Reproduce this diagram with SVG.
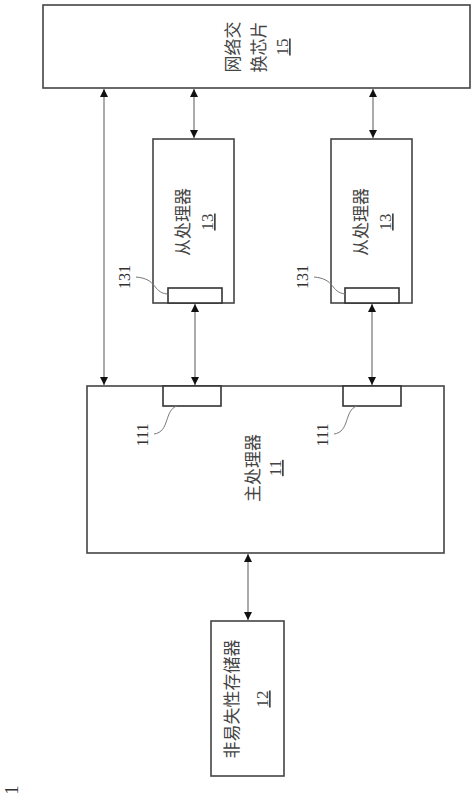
<svg xmlns="http://www.w3.org/2000/svg" width="474" height="800" viewBox="0 0 474 800">
<defs>
<marker id="ah" viewBox="0 0 10 10" refX="10" refY="5" markerWidth="8" markerHeight="8" markerUnits="userSpaceOnUse" orient="auto-start-reverse">
<path d="M0,0 L10,5 L0,10 z" fill="#111"/>
</marker>
<style>
.box{fill:#fff;stroke:#444;stroke-width:1.6}
.port{fill:#fff;stroke:#333;stroke-width:1.6}
.conn{stroke:#666;stroke-width:1.1;fill:none;marker-start:url(#ah);marker-end:url(#ah)}
.lead{stroke:#777;stroke-width:1;fill:none}
.t{font-family:"Liberation Serif","Noto Sans CJK SC",serif;font-size:17px;fill:#444;text-anchor:middle}
.n{font-family:"Liberation Serif","Noto Sans CJK SC",serif;font-size:16px;fill:#333;text-anchor:middle}
.u{text-decoration:underline}
</style>
</defs>
<rect width="474" height="800" fill="#fff"/>
<g id="connectors">
<line class="conn" x1="104" y1="89" x2="104" y2="385"/>
<line class="conn" x1="194" y1="89" x2="194" y2="138"/>
<line class="conn" x1="373" y1="89" x2="373" y2="138"/>
<line class="conn" x1="195" y1="304" x2="195" y2="385"/>
<line class="conn" x1="372" y1="304" x2="372" y2="385"/>
<line class="conn" x1="248" y1="554" x2="248" y2="620"/>
</g>
<g id="chip15">
<rect class="box" x="43" y="5" width="427" height="83"/>
<text class="t" transform="translate(256,47) rotate(-90)"><tspan x="0" y="-17">网络交</tspan><tspan x="0" y="9">换芯片</tspan><tspan x="0" y="32" class="u">15</tspan></text>
</g>
<g id="slave13a">
<rect class="box" x="153" y="139" width="81" height="164"/>
<rect class="port" x="168" y="288" width="54" height="15"/>
<text class="t" transform="translate(194,222) rotate(-90)"><tspan x="0" y="-5">从处理器</tspan><tspan x="0" y="19" class="u">13</tspan></text>
</g>
<g id="slave13b">
<rect class="box" x="331" y="139" width="81" height="164"/>
<rect class="port" x="345" y="288" width="54" height="15"/>
<text class="t" transform="translate(372,222) rotate(-90)"><tspan x="0" y="-5">从处理器</tspan><tspan x="0" y="19" class="u">13</tspan></text>
</g>
<g id="label131a">
<path class="lead" d="M136,277 C158,279 152,292 167,294"/>
<text class="n" transform="translate(125,277) rotate(-90)" x="0" y="5">131</text>
</g>
<g id="label131b">
<path class="lead" d="M314,277 C336,279 330,292 345,294"/>
<text class="n" transform="translate(303,277) rotate(-90)" x="0" y="5">131</text>
</g>
<g id="main11">
<rect class="box" x="87" y="386" width="357" height="167"/>
<rect class="port" x="163" y="386" width="58" height="20"/>
<rect class="port" x="343" y="386" width="58" height="20"/>
<text class="t" transform="translate(264,468) rotate(-90)"><tspan x="0" y="-5">主处理器</tspan><tspan x="0" y="17" class="u">11</tspan></text>
</g>
<g id="label111a">
<path class="lead" d="M154,434 C170,432 164,410 177,406"/>
<text class="n" transform="translate(143,435) rotate(-90)" x="0" y="5">111</text>
</g>
<g id="label111b">
<path class="lead" d="M334,434 C350,432 344,410 357,406"/>
<text class="n" transform="translate(323,435) rotate(-90)" x="0" y="5">111</text>
</g>
<g id="nvm12">
<rect class="box" x="211" y="621" width="73" height="155"/>
<text class="t" transform="translate(247,699) rotate(-90)"><tspan x="0" y="-9">非易失性存储器</tspan><tspan x="0" y="21" class="u">12</tspan></text>
</g>
<g id="fig1">
<text class="n" transform="translate(12,790) rotate(-90)" x="0" y="6" style="font-size:18px">1</text>
</g>
</svg>
